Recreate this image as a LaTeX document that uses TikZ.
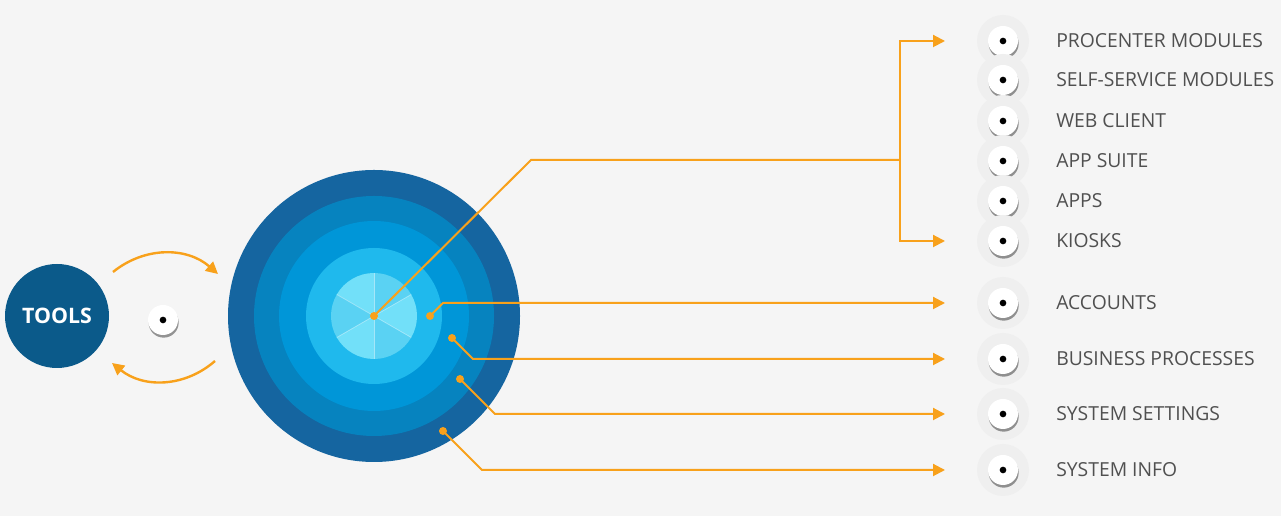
\documentclass[tikz,border=0pt]{standalone}
\usepackage{fontspec}
\setmainfont{Open Sans}
\usetikzlibrary{arrows.meta,shadows,calc}

\definecolor{bgcol}{HTML}{F5F5F5}
\definecolor{ring1}{HTML}{1565A0}
\definecolor{ring2}{HTML}{0683BF}
\definecolor{ring3}{HTML}{0096D8}
\definecolor{ring4}{HTML}{1FB9ED}
\definecolor{pieA}{HTML}{72E0F9}
\definecolor{pieB}{HTML}{5AD2F3}
\definecolor{toolcol}{HTML}{0B5A8A}
\definecolor{ptrcol}{HTML}{F8A11B}
\definecolor{txtcol}{HTML}{505050}
\definecolor{halocol}{HTML}{EFEFEF}

\tikzset{
  pointer/.style={ptrcol, line width=1.5pt, -{Triangle[length=9pt,width=9pt]}},
  ptrline/.style={ptrcol, line width=1.5pt},
  ptrdot/.style={circle, fill=ptrcol, inner sep=0pt, minimum size=6pt},
  halo/.style={circle, fill=halocol, inner sep=0pt, minimum size=39pt},
  marker/.style={circle, fill=white, inner sep=0pt, minimum size=22.5pt,
    drop shadow={shadow xshift=0.5pt, shadow yshift=-2pt, opacity=0.4, fill=black}},
  mdot/.style={circle, fill=black, inner sep=0pt, minimum size=5pt},
  itemlabel/.style={anchor=west, text=txtcol, inner sep=0pt,
    font=\fontsize{14.5}{17}\selectfont},
}

\begin{document}
\begin{tikzpicture}[x=0.75pt, y=0.75pt]
    % Background
    \fill[bgcol] (0,0) rectangle (1281,516);
    \coordinate (C) at (374,200);

    % Rings
    \fill[ring1] (C) circle[radius=146];
    \fill[ring2] (C) circle[radius=120];
    \fill[ring3] (C) circle[radius=95];
    \fill[ring4] (C) circle[radius=68];

    % Pie in the middle
    \foreach \a/\c in {30/pieB,90/pieA,150/pieB,210/pieA,270/pieB,330/pieA}
        \fill[\c] (C) -- ++(\a:43) arc[start angle=\a, delta angle=60, radius=43] -- cycle;
    \foreach \a in {30,90,...,330}
        \draw[white, opacity=0.45, line width=0.5pt] (C) -- ++(\a:43);

    % Tools
    \node[circle, fill=toolcol, minimum size=78pt, text=white,
          font=\fontsize{16}{19}\selectfont\bfseries] (tools) at (57,200) {TOOLS};
    \node[marker] (mid) at (163,196) {};
    \node[mdot] at (mid) {};

    \coordinate (t1) at (113,244);
    \coordinate (t2) at (218,242);
    \coordinate (t3) at (215,155);
    \coordinate (t4) at (112,153);
    \draw[pointer, line width=1.8pt] (t1) to[bend left=40] (t2);
    \draw[pointer, line width=1.8pt] (t3) to[bend left=40] (t4);

    % Markers and labels
    \foreach \y/\txt [count=\i] in {475/PROCENTER MODULES, 436/SELF-SERVICE MODULES,
        395/WEB CLIENT, 355/APP SUITE, 315/APPS, 275/KIOSKS, 213/ACCOUNTS,
        157/BUSINESS PROCESSES, 102/SYSTEM SETTINGS, 46/SYSTEM INFO} {
        \node[halo] (h\i) at (1003,\y) {};
        \node[marker] (m\i) at (1003,\y) {};
        \node[mdot] at (m\i) {};
        \node[itemlabel] (l\i) at (1056,\y) {\txt};
        \coordinate (a\i) at (945,\y);
    }

    % Pointers
    \node[ptrdot] (p1) at (C) {};
    \coordinate (k1) at (531,356);
    \coordinate (b) at (900,356);
    \draw[ptrline] (p1.center) -- (k1) -- (b);
    \draw[pointer] (b) |- (a1);
    \draw[pointer] (b) |- (a6);

    \node[ptrdot] (p2) at (430,200) {};
    \draw[pointer] (p2.center) -- ++(13,13) -- (a7);
    \node[ptrdot] (p3) at (452,178) {};
    \draw[pointer] (p3.center) -- ++(21,-21) -- (a8);
    \node[ptrdot] (p4) at (460,137) {};
    \draw[pointer] (p4.center) -- ++(35,-35) -- (a9);
    \node[ptrdot] (p5) at (443,85) {};
    \draw[pointer] (p5.center) -- ++(39,-39) -- (a10);
\end{tikzpicture}
\end{document}
